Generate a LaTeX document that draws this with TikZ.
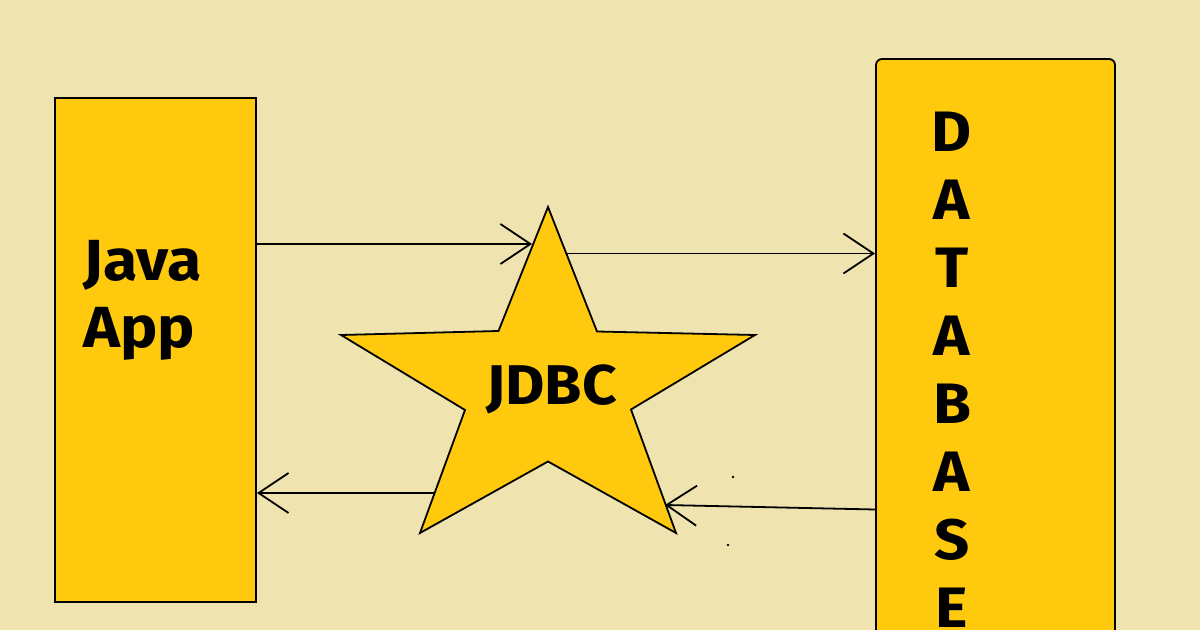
\documentclass[tikz,border=0pt]{standalone}
\usepackage{fontspec}
\setmainfont[FakeStretch=1.08]{Fira Sans}
\usepackage{tikz}
\usetikzlibrary{arrows.meta}

\definecolor{painttan}{RGB}{239,228,176}
\definecolor{paintgold}{RGB}{255,201,14}

\begin{document}
\begin{tikzpicture}[x=0.5pt,y=-0.5pt]
        \tikzset{>={Straight Barb[length=15pt,width=20pt]}}
        \tikzstyle{box}=[rectangle,fill=paintgold,draw=black,line width=0.9pt,inner sep=0pt]
        \tikzstyle{link}=[->,line width=0.9pt]
        \tikzstyle{lbl}=[text=black,font=\bfseries,inner sep=0pt]

        \clip (0,0) rectangle (1200,630);
        \fill[painttan] (0,0) rectangle (1200,630);

        \node[box,minimum width=100.5pt,minimum height=252pt] (java) at (155.5,350) {};
        \node[box,rounded corners=3pt,minimum width=119.5pt,minimum height=320.5pt] (db) at (995.5,379.5) {};

        % jdbc star
        \draw[fill=paintgold,line width=0.9pt] (548,207) -- (597,331.5) -- (755,335) -- (631,409.5) -- (676,533)
            -- (548,461.5) -- (420,533) -- (465,410) -- (341,335) -- (498.5,331) -- cycle;
        \coordinate (s1) at (532,244);
        \coordinate (s2) at (567,253.5);
        \coordinate (s3) at (665,505);
        \coordinate (s4) at (434,493);

        \node[lbl,anchor=base west,align=left,font=\bfseries\fontsize{29pt}{33.5pt}\selectfont] (javatxt) at (83,347.7) {Java\\App};
        \node[lbl,anchor=base,font=\bfseries\fontsize{28pt}{33pt}\selectfont] (jdbc) at (551.5,405) {JDBC};
        \node[lbl,anchor=base,align=center,font=\bfseries\fontsize{28.5pt}{34pt}\selectfont] (dbtxt) at (952,627.7) {D\\A\\T\\A\\B\\A\\S\\E};

        \draw[link] (java.east |- s1) -- (s1);
        \draw[link] (s2) -- (db.west |- s2);
        \draw[link] (db.west |- 0,509.5) -- (s3);
        \draw[link] (s4) -- (java.east |- s4);

        \fill (733,477) circle (0.7pt);
        \fill (728,545) circle (0.7pt);
    \end{tikzpicture}
\end{document}
